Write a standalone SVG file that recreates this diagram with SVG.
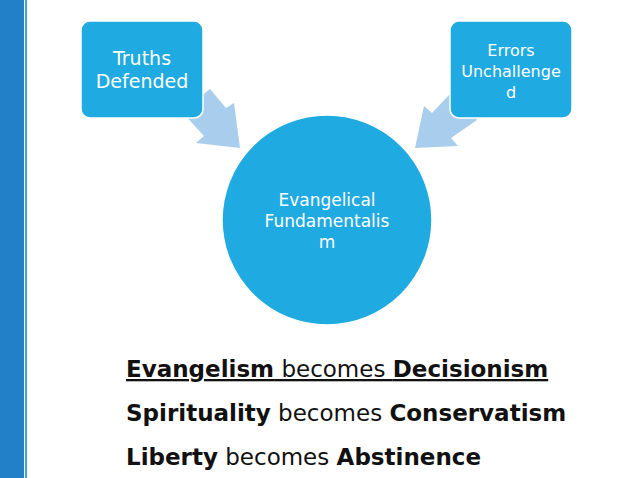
<svg xmlns="http://www.w3.org/2000/svg" width="638" height="478" viewBox="0 0 638 478">
<style>
.box{fill:#1FAAE1;stroke:#fff;stroke-width:1.5}
.t{font-family:"DejaVu Sans",sans-serif;fill:#fff;text-anchor:middle}
.arr{fill:#A9CDEC}
.b{font-family:"DejaVu Sans",sans-serif;font-size:23px;fill:#111}
</style>
<rect width="638" height="478" fill="#fff"/>
<rect x="0" y="0" width="24" height="478" fill="#2180C8"/>
<rect x="25" y="0" width="2" height="478" fill="#3AA6E0"/>
<g id="connectors">
<polygon class="arr" points="190,105 210,89 226,108 234,103 240,148 196,143 204,136 183,113"/>
<polygon class="arr" points="470,110 450,94 432,113 424,106 415,148 458,146 451,138 477,120"/>
</g>
<g id="n1"><rect class="box" x="81" y="21" width="122" height="97" rx="9"/>
<text class="t" font-size="19"><tspan x="142" y="65">Truths</tspan><tspan x="142" y="88">Defended</tspan></text></g>
<g id="n2"><rect class="box" x="450" y="21" width="122" height="97" rx="9"/>
<text class="t" font-size="16"><tspan x="511" y="56">Errors</tspan><tspan x="511" y="77">Unchallenge</tspan><tspan x="511" y="98">d</tspan></text></g>
<g id="n3"><circle cx="327" cy="220" r="105" fill="#1FAAE1" stroke="#fff" stroke-width="1.5"/>
<text class="t" font-size="17"><tspan x="327" y="206">Evangelical</tspan><tspan x="327" y="227">Fundamentalis</tspan><tspan x="327" y="248">m</tspan></text></g>
<text class="b" x="126" y="377" text-decoration="underline"><tspan font-weight="bold">Evangelism</tspan> becomes <tspan font-weight="bold">Decisionism</tspan></text>
<text class="b" x="126" y="421"><tspan font-weight="bold">Spirituality</tspan> becomes <tspan font-weight="bold">Conservatism</tspan></text>
<text class="b" x="126" y="465"><tspan font-weight="bold">Liberty</tspan> becomes <tspan font-weight="bold">Abstinence</tspan></text>
</svg>
